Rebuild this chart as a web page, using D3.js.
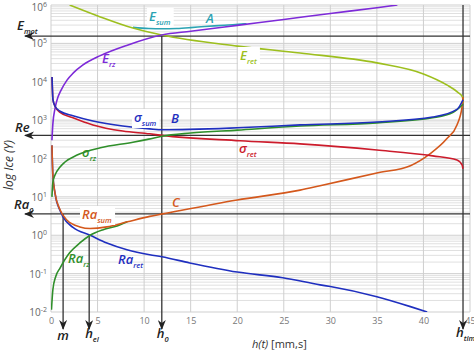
<!DOCTYPE html>
<html>
<head>
<meta charset="utf-8">
<script src="https://cdn.jsdelivr.net/npm/d3@7"></script>
<style>
  body { margin: 0; background: #fff; }
  svg { display: block; font-family: "Open Sans", sans-serif; }
</style>
</head>
<body>
<script>
// x ticks (h in mm,s) and decades for the log axis
var hTicks = [0, 5, 10, 15, 20, 25, 30, 35, 40, 45];
var decades = [-2, -1, 0, 1, 2, 3, 4, 5, 6];

// curves: [h, value]
var Erz = [[0.1, 300], [0.2, 800], [0.43, 2000], [0.75, 4000], [1.0, 5500], [1.72, 11000], [2.4, 17000],
    [3.4, 27000], [5.3, 48000], [8.2, 90000], [11.9, 165000], [15, 207000], [20, 295000], [25, 420000],
    [30, 600000], [35, 850000], [37.2, 1000000]];
var Eret = [[2.0, 1000000], [5.3, 490000], [8.8, 250000], [11.9, 165000], [20, 85000], [26.75, 56000],
    [35, 31000], [40, 16000], [42.5, 8300], [43.7, 5300], [44.2, 4000], [44.25, 2800]];
var Esum = [[8.8, 262000], [10.5, 245000], [11.9, 240000], [13.5, 245000], [15, 258000], [16.5, 275000],
    [18, 290000], [19.5, 305000], [21, 325000]];
var sigRet = [[0.11, 13300], [0.21, 3400], [0.43, 2300], [0.97, 1600], [2.36, 1150], [4.5, 750], [7.7, 520],
    [10.6, 440], [11.9, 400], [20.3, 290], [26.75, 240], [35, 166], [41, 117], [43.6, 92], [44.15, 68], [44.25, 54]];
var sigSum = [[0.11, 13300], [0.21, 3400], [0.43, 2300], [0.97, 1700], [2.36, 1300], [4.5, 950], [7.7, 700],
    [10.6, 590], [12, 560], [20, 630], [26.75, 750], [35, 890], [41, 1200], [43.6, 1900], [44.25, 3400]];
var sigRz = [[0.1, 10], [0.2, 24], [0.43, 37], [0.97, 60], [1.5, 81], [2.8, 123], [5.3, 190], [8.8, 265],
    [10.5, 320], [11.9, 380], [15, 460], [20, 550], [26.75, 700], [35, 850], [41, 1150], [43.2, 1600], [44.25, 2600]];
var raSum = [[0.1, 220], [0.2, 37], [0.43, 12.6], [0.97, 4.6], [1.7, 2.5], [3.1, 1.65], [4.2, 1.5], [6, 1.65],
    [8.2, 2.24], [10.6, 3.1], [12, 3.6], [20, 8.3], [26.75, 15], [28.9, 19.5], [35, 42], [38.6, 65],
    [40.7, 132], [42.5, 325], [43.6, 750], [44.15, 2200], [44.25, 4000]];
var raRz = [[0.05, 0.0115], [0.2, 0.038], [0.5, 0.083], [0.97, 0.14], [2.0, 0.35], [3.1, 0.63], [4.2, 1.0],
    [5.6, 1.4], [7.1, 1.75], [8.2, 2.24]];
var raRet = [[0.1, 220], [0.2, 37], [0.43, 12.5], [0.97, 4.4], [1.29, 3.0], [2.36, 1.6], [4.2, 1.0], [6, 0.63],
    [8.16, 0.42], [10.6, 0.31], [11.9, 0.275], [14.9, 0.19], [20, 0.11], [24.9, 0.078], [28.9, 0.051],
    [30, 0.046], [35, 0.025], [38.6, 0.0138], [40.4, 0.01]];

// reference levels
var Emot = 155000, Re = 400, Ra0 = 3.6;
var h0 = 11.9, hm = 1.3, hel = 4.1, htim = 44.25;

var width = 474, height = 350;
var svg = d3.select("body").append("svg")
    .attr("width", width)
    .attr("height", height);

var x = d3.scaleLinear().domain([0, 45]).range([51, 470]);
var y = d3.scaleLog().domain([1e-2, 1e6]).range([312, 5]);

// grid
var grid = svg.append("g");
decades.forEach(function (d) {
    for (var k = 1; k <= 9; k++) {
        if (d == 6 && k > 1) break;
        var v = k * Math.pow(10, d);
        grid.append("line")
            .attr("x1", x(0)).attr("x2", x(45))
            .attr("y1", y(v)).attr("y2", y(v))
            .attr("stroke", k == 1 ? "#cfcfcf" : "#e0e0e0")
            .attr("stroke-width", 1);
    }
});
hTicks.forEach(function (t) {
    grid.append("line")
        .attr("x1", x(t)).attr("x2", x(t))
        .attr("y1", y(1e6)).attr("y2", y(1e-2))
        .attr("stroke", "#cfcfcf");
});

// tick labels
var xAxis = d3.axisBottom(x).tickValues(hTicks).tickSize(0).tickPadding(6);
var gx = svg.append("g").attr("transform", "translate(0," + y(1e-2) + ")").call(xAxis);
gx.select(".domain").remove();
gx.selectAll("text").attr("fill", "#777").style("font-size", "9px").style("font-family", "Open Sans");

decades.forEach(function (d) {
    var t = svg.append("text")
        .attr("x", 47).attr("y", y(Math.pow(10, d)) + (d == 6 ? 6 : 4))
        .attr("text-anchor", "end")
        .attr("fill", "#666")
        .style("font-size", "10px");
    t.append("tspan").text("10");
    t.append("tspan").attr("dy", -4).style("font-size", "7px").text(d);
});

// arrow marker
var defs = svg.append("defs");
defs.append("marker")
    .attr("id", "arr")
    .attr("viewBox", "0 0 10 8")
    .attr("refX", 9).attr("refY", 4)
    .attr("markerWidth", 10).attr("markerHeight", 8)
    .attr("markerUnits", "userSpaceOnUse")
    .attr("orient", "auto")
    .append("path")
    .attr("d", "M0,0 L10,4 L0,8 L3,4 Z")
    .attr("fill", "#222");
defs.append("clipPath").attr("id", "clip")
    .append("rect")
    .attr("x", x(0)).attr("y", y(1e6))
    .attr("width", x(45) - x(0)).attr("height", y(1e-2) - y(1e6));

// reference arrows
var arrowColor = "#333";
[Emot, Re, Ra0].forEach(function (v) {
    svg.append("line")
        .attr("x1", x(45)).attr("x2", 25)
        .attr("y1", y(v)).attr("y2", y(v))
        .attr("stroke", arrowColor).attr("stroke-width", 1.3)
        .attr("marker-end", "url(#arr)");
});
[[h0, Emot], [hm, Ra0], [hel, 1.0], [htim, 1e6]].forEach(function (p) {
    svg.append("line")
        .attr("x1", x(p[0])).attr("x2", x(p[0]))
        .attr("y1", y(p[1])).attr("y2", y(1e-2) + 17)
        .attr("stroke", arrowColor).attr("stroke-width", 1.3)
        .attr("marker-end", "url(#arr)");
});

// curves
var line = d3.line()
    .x(function (d) { return x(d[0]); })
    .y(function (d) { return y(d[1]); })
    .curve(d3.curveMonotoneX);

var curves = svg.append("g").attr("clip-path", "url(#clip)");
function draw(data, color) {
    curves.append("path")
        .datum(data)
        .attr("d", line)
        .attr("fill", "none")
        .attr("stroke", color)
        .attr("stroke-width", 1.6);
}
draw(Esum, "#2ba3b3");
draw(Eret, "#9dbf1e");
draw(Erz, "#7d2ad8");
draw(raRet, "#1f2fbf");
draw(raRz, "#2f8f2a");
draw(raSum, "#d4581c");
draw(sigRet, "#cc1b2b");
draw(sigRz, "#2f8f2a");
draw(sigSum, "#1f2fbf");

// labels
function label(px, py, main, sub, color, bg, anchor) {
    var g = svg.append("g");
    var t = g.append("text")
        .attr("x", px).attr("y", py)
        .attr("fill", color)
        .attr("text-anchor", anchor || "start")
        .style("font-style", "italic")
        .style("font-weight", 600)
        .style("font-size", "13px");
    t.append("tspan").text(main);
    if (sub) t.append("tspan").attr("dy", 4).style("font-size", "7.5px").text(sub);
    if (bg) {
        var b = t.node().getBBox();
        g.insert("rect", "text")
            .attr("x", b.x - 2).attr("y", b.y + 1)
            .attr("width", b.width + 5).attr("height", b.height - 1)
            .attr("fill", "#fff");
    }
}
label(149, 21, "E", "sum", "#2ba3b3", true);
label(206, 23, "A", null, "#2ba3b3");
label(17, 30, "E", "mot", "#222");
label(102, 63, "E", "rz", "#7d2ad8");
label(240, 60, "E", "ret", "#9dbf1e", true);
label(134, 122, "σ", "sum", "#1f2fbf", true);
label(171, 123, "B", null, "#1f2fbf");
label(15, 132, "Re", null, "#222");
label(239, 153, "σ", "ret", "#cc1b2b");
label(82, 157, "σ", "rz", "#2f8f2a");
label(14, 209, "Ra", "0", "#222");
label(82, 219, "Ra", "sum", "#d4581c", true);
label(172, 207, "C", null, "#d4581c");
label(68, 263, "Ra", "rz", "#2f8f2a");
label(118, 264, "Ra", "ret", "#1f2fbf");

label(x(hm), 340, "m", null, "#222", false, "middle");
label(x(hel) - 4, 338, "h", "el", "#222");
label(x(h0) - 5, 338, "h", "0", "#222");
label(x(htim) - 7, 337, "h", "tim", "#222");

// axis titles
var xt = svg.append("text")
    .attr("x", 252).attr("y", 348)
    .attr("fill", "#333")
    .style("font-size", "11px");
xt.append("tspan").style("font-style", "italic").text("h(t)");
xt.append("tspan").text(" [mm,s]");

svg.append("text")
    .attr("transform", "translate(13,165) rotate(-90)")
    .attr("text-anchor", "middle")
    .attr("fill", "#333")
    .style("font-size", "12px")
    .style("font-style", "italic")
    .text("log Ice (Y)");
</script>
</body>
</html>
